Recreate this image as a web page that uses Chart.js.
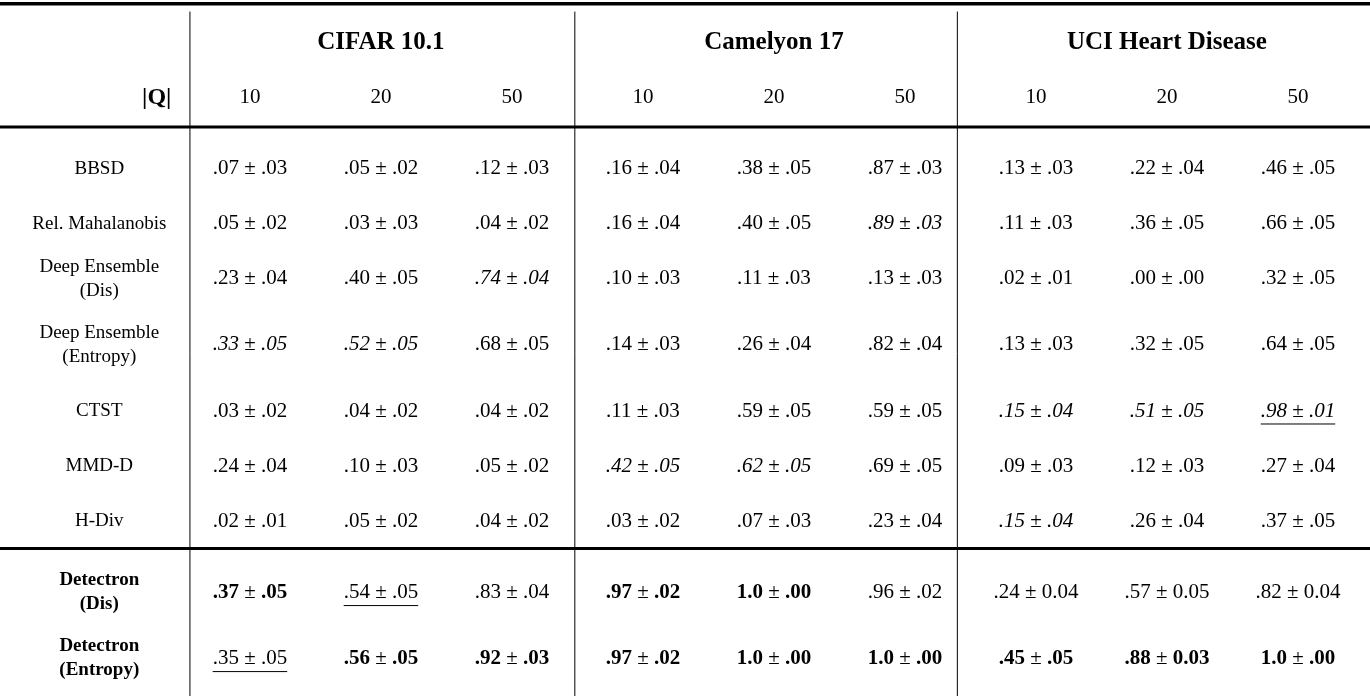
<!DOCTYPE html>
<html>
<head>
<meta charset="utf-8">
<script src="https://cdn.jsdelivr.net/npm/chart.js@4/dist/chart.umd.min.js"></script>
<style>
  html, body { margin: 0; padding: 0; background: #fff; }
  #wrap { width: 1370px; height: 696px; }
</style>
</head>
<body>
<div id="wrap"><canvas id="tabel"></canvas></div>
<script>
// Data tabel
const datasetNames = ["CIFAR 10.1", "Camelyon 17", "UCI Heart Disease"];
const querySizes = ["10", "20", "50"];
const methods = [
  ["BBSD"],
  ["Rel. Mahalanobis"],
  ["Deep Ensemble", "(Dis)"],
  ["Deep Ensemble", "(Entropy)"],
  ["CTST"],
  ["MMD-D"],
  ["H-Div"],
  ["Detectron", "(Dis)"],
  ["Detectron", "(Entropy)"],
];
const boldMethods = [false, false, false, false, false, false, false, true, true];

// nilai: "mean|std", gaya: i = italic, u = underline, b = bold
const cellValues = [
  [".07|.03", ".05|.02", ".12|.03", ".16|.04", ".38|.05", ".87|.03", ".13|.03", ".22|.04", ".46|.05"],
  [".05|.02", ".03|.03", ".04|.02", ".16|.04", ".40|.05", ".89|.03", ".11|.03", ".36|.05", ".66|.05"],
  [".23|.04", ".40|.05", ".74|.04", ".10|.03", ".11|.03", ".13|.03", ".02|.01", ".00|.00", ".32|.05"],
  [".33|.05", ".52|.05", ".68|.05", ".14|.03", ".26|.04", ".82|.04", ".13|.03", ".32|.05", ".64|.05"],
  [".03|.02", ".04|.02", ".04|.02", ".11|.03", ".59|.05", ".59|.05", ".15|.04", ".51|.05", ".98|.01"],
  [".24|.04", ".10|.03", ".05|.02", ".42|.05", ".62|.05", ".69|.05", ".09|.03", ".12|.03", ".27|.04"],
  [".02|.01", ".05|.02", ".04|.02", ".03|.02", ".07|.03", ".23|.04", ".15|.04", ".26|.04", ".37|.05"],
  [".37|.05", ".54|.05", ".83|.04", ".97|.02", "1.0|.00", ".96|.02", ".24|0.04", ".57|0.05", ".82|0.04"],
  [".35|.05", ".56|.05", ".92|.03", ".97|.02", "1.0|.00", "1.0|.00", ".45|.05", ".88|0.03", "1.0|.00"],
];
const cellStyles = [
  ["", "", "", "", "", "", "", "", ""],
  ["", "", "", "", "", "i", "", "", ""],
  ["", "", "i", "", "", "", "", "", ""],
  ["i", "i", "", "", "", "", "", "", ""],
  ["", "", "", "", "", "", "i", "i", "iu"],
  ["", "", "", "i", "i", "", "", "", ""],
  ["", "", "", "", "", "", "i", "", ""],
  ["b", "u", "", "b", "b", "", "", "", ""],
  ["u", "b", "b", "b", "b", "b", "b", "b", "b"],
];

// posisi baris (unit sumbu y) – tata letak
const rowPos = [0, 1, 2, 3.2, 4.4, 5.4, 6.4, 7.7, 8.9];

const points = [];
cellValues.forEach((row, r) => {
  row.forEach((v, c) => points.push({ x: c + 1, y: rowPos[r], r, c }));
});

const SERIF = '"Liberation Serif", "DejaVu Serif", serif';

const tablePlugin = {
  id: "tablePlugin",
  afterDraw(chart) {
    const ctx = chart.ctx;
    const xs = chart.scales.x, ys = chart.scales.y;
    const X = (v) => xs.getPixelForValue(v);
    const Y = (v) => ys.getPixelForValue(v);
    ctx.save();
    ctx.fillStyle = "#000";
    ctx.strokeStyle = "#000";
    ctx.textBaseline = "middle";

    // garis horizontal
    const hline = (v, w) => {
      ctx.lineWidth = w;
      ctx.beginPath(); ctx.moveTo(0, Y(v)); ctx.lineTo(1370, Y(v)); ctx.stroke();
    };
    hline(-3, 3.5);
    hline(-0.76, 3);
    hline(6.9, 3);
    // garis vertikal
    [0.542, 3.48, 6.4].forEach((v) => {
      ctx.lineWidth = 1;
      ctx.beginPath(); ctx.moveTo(X(v), Y(-2.86)); ctx.lineTo(X(v), 696); ctx.stroke();
    });

    // header
    ctx.textAlign = "center";
    ctx.font = "bold 25px " + SERIF;
    datasetNames.forEach((n, i) => ctx.fillText(n, X(2 + i * 3), Y(-2.3)));
    ctx.font = "21px " + SERIF;
    for (let g = 0; g < 3; g++) {
      querySizes.forEach((q, i) => ctx.fillText(q, X(1 + g * 3 + i), Y(-1.29)));
    }
    ctx.textAlign = "right";
    ctx.font = "bold 24px " + SERIF;
    const qx = X(0.4);
    ctx.fillText("|", qx, Y(-1.29));
    const wBar = ctx.measureText("|").width;
    ctx.fillText("Q", qx - wBar, Y(-1.29));
    const wQ = ctx.measureText("Q").width;
    ctx.fillText("|", qx - wBar - wQ, Y(-1.29));

    // label metode
    ctx.textAlign = "center";
    methods.forEach((lines, r) => {
      ctx.font = (boldMethods[r] ? "bold 19px " : "19px ") + SERIF;
      const y0 = Y(rowPos[r]);
      if (lines.length === 1) ctx.fillText(lines[0], X(-0.15), y0);
      else {
        ctx.fillText(lines[0], X(-0.15), y0 - 12);
        ctx.fillText(lines[1], X(-0.15), y0 + 12);
      }
    });

    // sel
    ctx.textAlign = "left";
    const meta = chart.getDatasetMeta(0);
    meta.data.forEach((el, i) => {
      const p = points[i];
      const [m, s] = cellValues[p.r][p.c].split("|");
      const st = cellStyles[p.r][p.c];
      const bold = st.includes("b"), ital = st.includes("i");
      const numFont = (ital ? "italic " : "") + (bold ? "bold " : "") + "21px " + SERIF;
      const pmFont = "21px " + SERIF;
      const parts = [[m, numFont], [" \u00B1 ", pmFont], [s, numFont]];
      let total = 0;
      parts.forEach((pt) => { ctx.font = pt[1]; pt.push(ctx.measureText(pt[0]).width); total += pt[2]; });
      let x = el.x - total / 2;
      const y = el.y;
      parts.forEach((pt) => { ctx.font = pt[1]; ctx.fillText(pt[0], x, y); x += pt[2]; });
      if (st.includes("u")) {
        ctx.lineWidth = 1;
        ctx.beginPath(); ctx.moveTo(el.x - total / 2, y + 13); ctx.lineTo(el.x + total / 2, y + 13); ctx.stroke();
      }
    });
    ctx.restore();
  },
};

new Chart(document.getElementById("tabel"), {
  type: "scatter",
  data: { datasets: [{ data: points, pointRadius: 0, pointHoverRadius: 0 }] },
  options: {
    responsive: true,
    maintainAspectRatio: false,
    animation: false,
    events: [],
    layout: { padding: 0 },
    plugins: { legend: { display: false }, tooltip: { enabled: false } },
    scales: {
      x: { type: "linear", min: -0.908, max: 9.55, display: false },
      y: { type: "linear", min: -3.07, max: 9.58, reverse: true, display: false },
    },
  },
  plugins: [tablePlugin],
});
</script>
</body>
</html>
